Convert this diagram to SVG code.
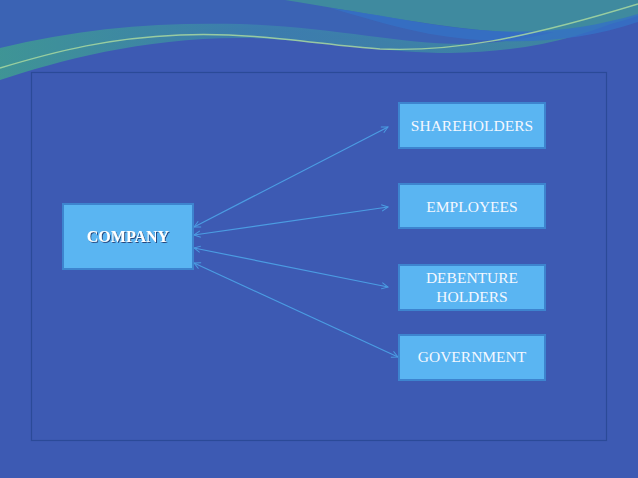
<svg xmlns="http://www.w3.org/2000/svg" width="638" height="478" viewBox="0 0 638 478">
<defs>
<style>
.box{fill:#5ab5f2;stroke:#3d84cf;stroke-width:2}
.lbl{font-family:"Liberation Serif","DejaVu Serif",serif;font-size:15.5px;fill:#f4f8ff;text-anchor:middle}
.co{font-family:"Liberation Serif","DejaVu Serif",serif;font-size:16px;font-weight:bold;fill:#ffffff;text-anchor:middle}
.conn{stroke:#4b9ce2;stroke-width:1.2;fill:none;marker-start:url(#ah);marker-end:url(#ah)}
</style>
<marker id="ah" viewBox="0 0 10 10" refX="9" refY="5" markerWidth="8" markerHeight="8" markerUnits="userSpaceOnUse" orient="auto-start-reverse">
<path d="M1,1 L9,5 L1,9" fill="none" stroke="#4b9ce2" stroke-width="1.2"/>
</marker>
<linearGradient id="tealL" x1="0" y1="0" x2="1" y2="0">
<stop offset="0" stop-color="#3f9a92"/>
<stop offset="0.4" stop-color="#3c7fae"/>
<stop offset="1" stop-color="#3f8c9c"/>
</linearGradient>
<filter id="sh" x="-10%" y="-30%" width="130%" height="160%">
<feDropShadow dx="1" dy="1" stdDeviation="0.6" flood-color="#1a2a60" flood-opacity="0.8"/>
</filter>
</defs>
<rect width="638" height="478" fill="#3d5ab3"/>
<g id="wave">
<path d="M0,0 H638 V0 C600,20 560,45 470,47 C400,48 330,30 250,28 C150,26 60,55 0,70 Z" fill="#3b63b4"/>
<path d="M0,48 C80,28 160,22 240,24 C330,27 400,44 460,44 C530,44 590,24 638,2 V12 C580,40 520,52 450,53 C390,53 320,40 250,38 C150,36 60,60 0,80 Z" fill="url(#tealL)" opacity="0.9"/>
<path d="M285,0 H638 V16 C590,32 540,36 480,30 C420,24 360,12 285,0 Z" fill="#3f8a9f"/>
<path d="M330,8 C390,16 430,26 480,30 C540,35 590,28 638,14 V22 C590,38 540,44 480,40 C420,36 380,22 330,8 Z" fill="#3470c6" opacity="0.8"/>
<path d="M0,68 C60,50 110,38 180,35 C260,32 320,45 380,49 C450,52 520,40 638,4" fill="none" stroke="#a8d8a0" stroke-width="1.4" opacity="0.85"/>
</g>
<rect x="31.5" y="72.5" width="575" height="368" fill="none" stroke="#2b4a98" stroke-width="1.2"/>
<g id="connectors">
<line class="conn" x1="194" y1="227" x2="388" y2="127"/>
<line class="conn" x1="194" y1="235" x2="388" y2="207"/>
<line class="conn" x1="194" y1="248" x2="388" y2="287"/>
<line class="conn" x1="194" y1="263" x2="398" y2="357"/>
</g>
<g id="company">
<rect class="box" x="63" y="204" width="130" height="65"/>
<text class="co" x="128" y="242" filter="url(#sh)">COMPANY</text>
</g>
<g id="shareholders">
<rect class="box" x="399" y="103" width="146" height="45"/>
<text class="lbl" x="472" y="131">SHAREHOLDERS</text>
</g>
<g id="employees">
<rect class="box" x="399" y="184" width="146" height="44"/>
<text class="lbl" x="472" y="212">EMPLOYEES</text>
</g>
<g id="debenture">
<rect class="box" x="399" y="265" width="146" height="45"/>
<text class="lbl" x="472" y="283">DEBENTURE</text>
<text class="lbl" x="472" y="302">HOLDERS</text>
</g>
<g id="government">
<rect class="box" x="399" y="335" width="146" height="45"/>
<text class="lbl" x="472" y="362">GOVERNMENT</text>
</g>
</svg>
